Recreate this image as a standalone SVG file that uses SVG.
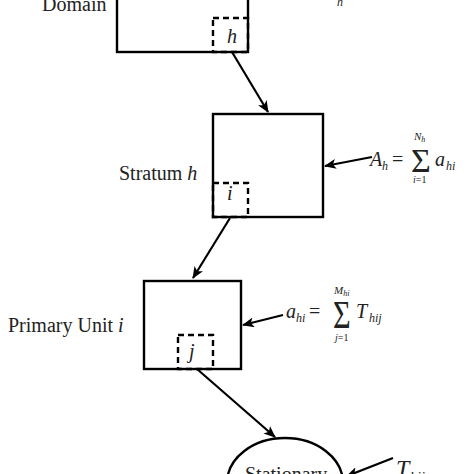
<svg xmlns="http://www.w3.org/2000/svg" width="474" height="474" viewBox="0 0 474 474">
<defs>
<marker id="ah" markerWidth="12" markerHeight="10" refX="11" refY="5" orient="auto" markerUnits="userSpaceOnUse">
<path d="M0,0 L12,5 L0,10 L3,5 Z" fill="#000"/>
</marker>
<style>
.box{fill:none;stroke:#000;stroke-width:2.4}
.dash{fill:none;stroke:#000;stroke-width:2.4;stroke-dasharray:6,4}
.lbl{font-family:"Liberation Serif","Times New Roman",serif;font-size:20px;fill:#222}
.it{font-style:italic}
.m{font-family:"Liberation Serif","Times New Roman",serif;font-style:italic;fill:#222}
.mr{font-family:"Liberation Serif","Times New Roman",serif;fill:#222}
.con{stroke:#000;stroke-width:2.2;fill:none;marker-end:url(#ah)}
</style>
</defs>
<rect width="474" height="474" fill="#fff"/>

<g id="domain">
<rect class="box" x="117" y="-10" width="131" height="62"/>
<rect class="dash" x="213" y="18" width="35" height="34"/>
<text class="lbl it" x="227" y="43">h</text>
<text class="lbl" x="42" y="11">Domain</text>
<text class="m" x="337" y="6" font-size="12">h</text>
</g>

<g id="stratum">
<rect class="box" x="213" y="114" width="110" height="103"/>
<rect class="dash" x="213" y="183" width="35" height="34"/>
<text class="lbl it" x="227" y="200">i</text>
<text class="lbl" x="119" y="180">Stratum <tspan class="it">h</tspan></text>
<text class="m" x="370" y="166" font-size="20">A</text>
<text class="m" x="382" y="170" font-size="12">h</text>
<text class="mr" x="392" y="166" font-size="20">=</text>
<text class="mr" x="411" y="172" font-size="34">Σ</text>
<text class="m" x="414" y="140" font-size="11">N<tspan font-size="8" dy="2">h</tspan></text>
<text class="m" x="413" y="183" font-size="10">i<tspan font-style="normal">=1</tspan></text>
<text class="m" x="435" y="166" font-size="20">a</text>
<text class="m" x="446" y="170" font-size="12">hi</text>
</g>

<g id="primary">
<rect class="box" x="144" y="281" width="97" height="88"/>
<rect class="dash" x="178" y="335" width="35" height="34"/>
<text class="lbl it" x="189" y="358">j</text>
<text class="lbl" x="8" y="332">Primary Unit <tspan class="it">i</tspan></text>
<text class="m" x="286" y="318" font-size="20">a</text>
<text class="m" x="296" y="322" font-size="12">hi</text>
<text class="mr" x="309" y="318" font-size="20">=</text>
<text class="mr" x="0" y="0" font-size="32" transform="translate(333,328) scale(0.95,1.25)">Σ</text>
<text class="m" x="334" y="294" font-size="11">M<tspan font-size="8" dy="2">hi</tspan></text>
<text class="m" x="335" y="341" font-size="10">j<tspan font-style="normal">=1</tspan></text>
<text class="m" x="356" y="318" font-size="20">T</text>
<text class="m" x="369" y="322" font-size="12">hij</text>
</g>

<g id="stationary">
<ellipse class="box" cx="285" cy="483" rx="58" ry="45"/>
<text class="lbl" x="245" y="481">Stationary</text>
<text class="m" x="396" y="476" font-size="24">T</text>
<text class="m" x="410" y="482" font-size="14">hij</text>
</g>

<g id="connectors">
<line class="con" x1="232" y1="52" x2="268" y2="112"/>
<line class="con" x1="372" y1="157" x2="325" y2="166"/>
<line class="con" x1="230" y1="218" x2="193" y2="278"/>
<line class="con" x1="283" y1="315" x2="243" y2="325"/>
<line class="con" x1="197" y1="369" x2="275" y2="437"/>
<line class="con" x1="393" y1="458" x2="347" y2="476"/>
</g>
</svg>
